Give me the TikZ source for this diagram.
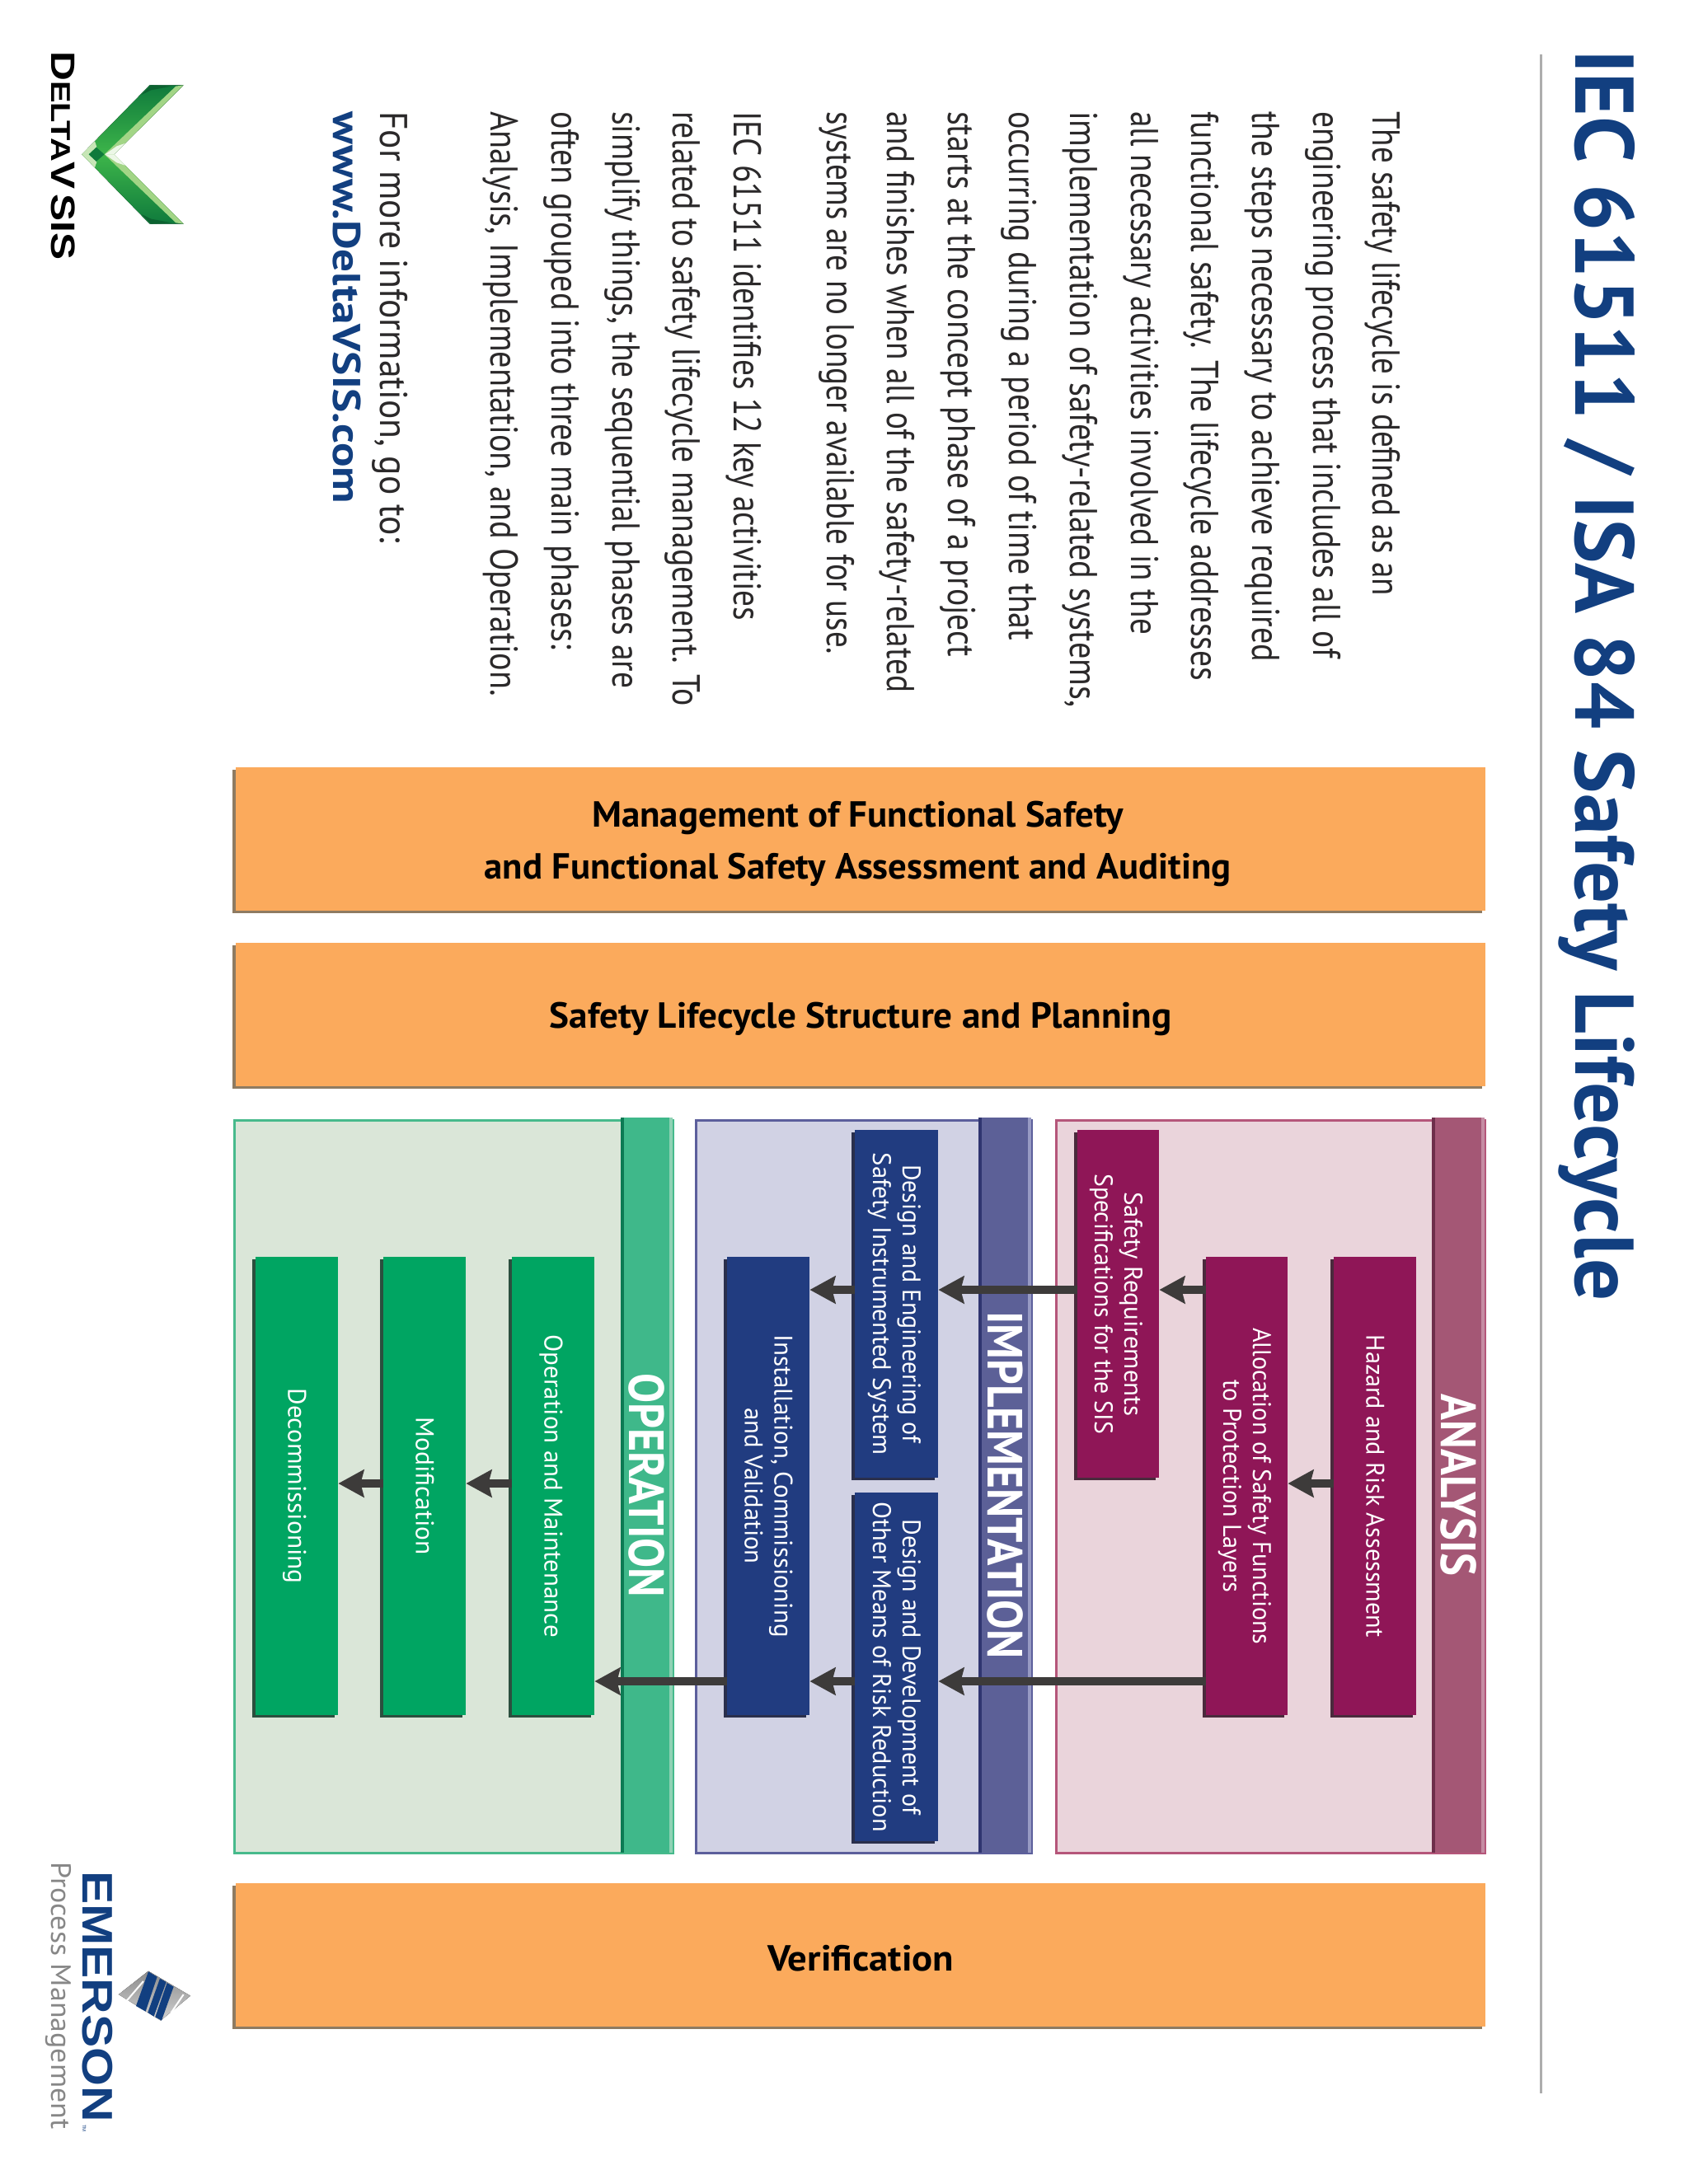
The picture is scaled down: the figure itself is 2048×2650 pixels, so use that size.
\documentclass[tikz,border=0pt]{standalone}
\usepackage{fontspec}
\usepackage{graphicx}
\setmainfont{PT Sans}
\newfontfamily\logofont{Liberation Sans}
\usetikzlibrary{arrows.meta,shadows}
\definecolor{orangebox}{HTML}{FBAA5C}
\definecolor{orangeedge}{HTML}{8E7B62}
\definecolor{crimson}{HTML}{8F1657}
\definecolor{crimsonedge}{HTML}{4A2A3C}
\definecolor{navy}{HTML}{213C80}
\definecolor{navyedge}{HTML}{2A2F4C}
\definecolor{grn}{HTML}{00A562}
\definecolor{grnedge}{HTML}{2B4F3E}
\definecolor{pinkpanel}{HTML}{EAD4DB}
\definecolor{pinkline}{HTML}{B5567A}
\definecolor{pinkstrip}{HTML}{A45775}
\definecolor{pinkdark}{HTML}{6E2F4B}
\definecolor{pinklight}{HTML}{C58CA3}
\definecolor{bluepanel}{HTML}{D1D2E4}
\definecolor{blueline}{HTML}{5C5F9C}
\definecolor{bluestrip}{HTML}{5C6097}
\definecolor{bluedark}{HTML}{2F3570}
\definecolor{bluelight}{HTML}{979AC3}
\definecolor{grnpanel}{HTML}{DAE6D8}
\definecolor{grnline}{HTML}{47BA8C}
\definecolor{grnstrip}{HTML}{3FB88A}
\definecolor{grndark}{HTML}{0C7A53}
\definecolor{grnlight}{HTML}{8FD2B4}
\definecolor{titleblue}{HTML}{123F80}
\definecolor{bodytext}{HTML}{2B292A}
\definecolor{arrowdark}{HTML}{3D3B3A}
\definecolor{chevdark}{HTML}{0F7A3C}
\definecolor{chevmid}{HTML}{3DB54A}
\definecolor{chevlight}{HTML}{A2D586}
\newsavebox\fwbox
\newcommand\fw[2]{\sbox\fwbox{#2}\pgfmathsetmacro\fwr{#1/\wd\fwbox}\scalebox{\fwr}[1]{\usebox\fwbox}}
\newcommand\rtext[1]{\rotatebox{-90}{#1}}
\newcommand\lbl[1]{\rtext{\fontsize{31}{36}\selectfont\begin{tabular}{@{}c@{}}#1\end{tabular}}\kern7pt\relax}
\newcommand\hdr[2]{\rtext{\bfseries\fontsize{60}{60}\selectfont\fw{#1}{#2}}}
\newcommand\olbl[2]{\vbox{\kern#1pt\hbox{\fontsize{44}{63}\selectfont\bfseries\begin{tabular}{@{}c@{}}#2\end{tabular}}}}
\tikzset{
  lifeline/.style={rotate=-90,anchor=base west,inner sep=0pt,text=bodytext,font=\fontsize{47}{47}\selectfont},
  orangebar/.style={rectangle,inner sep=0pt,fill=orangebox,anchor=north west,text=black,
     general shadow={shadow xshift=-4pt,shadow yshift=-3pt,fill=orangeedge}},
  stepbox/.style={rectangle,inner sep=0pt,anchor=north west,text=white,
     general shadow={shadow xshift=-4pt,shadow yshift=-2.5pt,fill=#1edge},fill=#1},
  panelbox/.style={rectangle,inner sep=0pt,anchor=north west,line width=3pt},
  stripbox/.style={rectangle,inner sep=0pt,anchor=north west,text=white},
  flow/.style={draw=arrowdark,line width=10pt,-{Stealth[length=31pt,width=33pt,inset=4pt]}},
}
\newcommand\bx[7]{% style, name, x0, y0, x1, y1, text
  \node[#1,minimum width={(#5-#3)*1pt},minimum height={(#6-#4)*1pt}] (#2) at (#3,#4) {#7};}
\begin{document}
\begin{tikzpicture}[x=1pt,y=-1pt]
\useasboundingbox (0,0) rectangle (2048,2650);
\fill[white] (0,0) rectangle (2048,2650);

% title and rule
\node[rotate=-90,anchor=base west,inner sep=0pt,text=titleblue,font=\fontsize{101}{101}\selectfont\bfseries] (title) at (1911,60) {\fw{1518}{IEC 61511 / ISA 84 Safety Lifecycle}};
\coordinate (ruleA) at (1869,66);
\coordinate (ruleB) at (1869,2540);
\draw[line width=3pt,draw=black!32] (ruleA) -- (ruleB);

% body text
\node[lifeline] (p1) at (1665,135) {\fw{588}{The safety lifecycle is defined as an}};
\node[lifeline] (p2) at (1593,135) {\fw{664}{engineering process that includes all of}};
\node[lifeline] (p3) at (1519,135) {\fw{668}{the steps necessary to achieve required}};
\node[lifeline] (p4) at (1445,135) {\fw{691}{functional safety. The lifecycle addresses}};
\node[lifeline] (p5) at (1372,135) {\fw{635}{all necessary activities involved in the}};
\node[lifeline] (p6) at (1298,135) {\fw{723}{implementation of safety-related systems,}};
\node[lifeline] (p7) at (1224,135) {\fw{642}{occurring during a period of time that}};
\node[lifeline] (p8) at (1150,135) {\fw{662}{starts at the concept phase of a project}};
\node[lifeline] (p9) at (1076,135) {\fw{705}{and finishes when all of the safety-related}};
\node[lifeline] (p10) at (1003,135) {\fw{659}{systems are no longer available for use.}};
\node[lifeline] (p11) at (890,135) {\fw{618}{IEC 61511 identifies 12 key activities}};
\node[lifeline] (p12) at (816,135) {\fw{722}{related to safety lifecycle management. To}};
\node[lifeline] (p13) at (743,135) {\fw{700}{simplify things, the sequential phases are}};
\node[lifeline] (p14) at (669,135) {\fw{653}{often grouped into three main phases:}};
\node[lifeline] (p15) at (595,135) {\fw{710}{Analysis, Implementation, and Operation.}};
\node[lifeline] (p16) at (461,135) {\fw{524}{For more information, go to:}};
\node[lifeline,text=titleblue,font=\fontsize{47}{47}\selectfont\bfseries] (url) at (404,135) {\fw{476}{www.DeltaVSIS.com}};

% orange bars
\bx{orangebar}{mgmt}{286}{931}{1802}{1105}{\olbl{8}{\fw{645}{Management of Functional Safety}\\\fw{906}{and Functional Safety Assessment and Auditing}}\kern7pt\relax}
\bx{orangebar}{plan}{286}{1144}{1802}{1318}{\olbl{8}{\fw{755}{Safety Lifecycle Structure and Planning}}}
\bx{orangebar}{verif}{286}{2285}{1802}{2459}{\olbl{14}{\fw{226}{Verification}}}

% panels
\bx{panelbox,fill=pinkpanel,draw=pinkline}{anaP}{1280}{1358}{1800}{2247}{}
\bx{panelbox,fill=bluepanel,draw=blueline}{impP}{843}{1358}{1250}{2247}{}
\bx{panelbox,fill=grnpanel,draw=grnline}{opP}{283}{1358}{815}{2247}{}

% header strips
\bx{stripbox,fill=pinkstrip}{anaS}{1737}{1356}{1801}{2248}{\hdr{221}{ANALYSIS}}
\bx{stripbox,fill=bluestrip}{impS}{1187}{1356}{1251}{2248}{\hdr{421}{IMPLEMENTATION}}
\bx{stripbox,fill=grnstrip}{opS}{753}{1356}{816}{2248}{\hdr{272}{OPERATION}}
\fill[pinkdark] (anaS.north west) rectangle ([xshift=4pt]anaS.south west);
\fill[pinklight] ([xshift=-4pt]anaS.north east) rectangle (anaS.south east);
\fill[bluedark] (impS.north west) rectangle ([xshift=4pt]impS.south west);
\fill[bluelight] ([xshift=-4pt]impS.north east) rectangle (impS.south east);
\fill[grndark] (opS.north west) rectangle ([xshift=4pt]opS.south west);
\fill[grnlight] ([xshift=-4pt]opS.north east) rectangle (opS.south east);

% step boxes
\bx{stepbox=crimson}{hazard}{1618}{1525}{1718}{2081}{\lbl{\fw{367}{Hazard and Risk Assessment}}}
\bx{stepbox=crimson}{alloc}{1463}{1525}{1562}{2081}{\lbl{\fw{384}{Allocation of Safety Functions}\\\fw{258}{to Protection Layers}}}
\bx{stepbox=crimson}{srs}{1307}{1371}{1406}{1793}{\lbl{\fw{272}{Safety Requirements}\\\fw{316}{Specifications for the SIS}}}
\bx{stepbox=navy}{deseng}{1037}{1371}{1138}{1793}{\lbl{\fw{338}{Design and Engineering of}\\\fw{367}{Safety Instrumented System}}}
\bx{stepbox=navy}{desdev}{1037}{1811}{1138}{2234}{\lbl{\fw{358}{Design and Development of}\\\fw{400}{Other Means of Risk Reduction}}}
\bx{stepbox=navy}{install}{882}{1525}{982}{2081}{\lbl{\fw{367}{Installation, Commissioning}\\\fw{189}{and Validation}}}
\bx{stepbox=grn}{opm}{621}{1525}{721}{2081}{\lbl{\fw{367}{Operation and Maintenance}}}
\bx{stepbox=grn}{modif}{465}{1525}{565}{2081}{\lbl{\fw{167}{Modification}}}
\bx{stepbox=grn}{decom}{310}{1525}{410}{2081}{\lbl{\fw{237}{Decommissioning}}}

% connectors
\coordinate (rowA) at (0,1565);
\coordinate (rowB) at (0,1800);
\coordinate (rowC) at (0,2040);
\draw[flow] (hazard.west |- rowB) -- (alloc.east |- rowB);
\draw[flow] (alloc.west |- rowA) -- (srs.east |- rowA);
\draw[flow] (srs.west |- rowA) -- (deseng.east |- rowA);
\draw[flow] (alloc.west |- rowC) -- (desdev.east |- rowC);
\draw[flow] (deseng.west |- rowA) -- (install.east |- rowA);
\draw[flow] (desdev.west |- rowC) -- (install.east |- rowC);
\draw[flow] (install.west |- rowC) -- (opm.east |- rowC);
\draw[flow] (opm.west |- rowB) -- (modif.east |- rowB);
\draw[flow] (modif.west |- rowB) -- (decom.east |- rowB);

% DeltaV SIS logo
\node[rotate=-90,anchor=base west,inner sep=0pt,text=black,font=\logofont\bfseries\fontsize{41}{41}\selectfont] (dv) at (62,62)
  {\fw{253}{D{\fontsize{33}{33}\selectfont ELTA}V\hspace{0.12em}SIS}};
\begin{scope}[shift={(0,0)},x=0.3333pt,y=-0.3333pt]
  \fill[top color=chevdark,bottom color=chevdark,middle color=chevmid] (668,310)--(545,310)--(298,562)--(545,815)--(668,815)--(415,562)--cycle;
  \fill[chevlight] (668,310)--(640,314)--(380,562)--(640,811)--(668,815)--(415,562)--cycle;
  \fill[white!80!chevlight] (382,562)--(415,562)--(455,522)--(425,532)--cycle;
  \fill[white!80!chevlight] (382,562)--(415,562)--(455,602)--(425,592)--cycle;
  \fill[chevdark] (322,562)--(350,536)--(380,562)--(350,588)--cycle;
  \fill[white!40!chevlight] (298,562)--(345,514)--(352,534)--(322,562)--(352,590)--(345,610)--cycle;
  \fill[chevdark!80!black] (625,314)--(550,310)--(515,345)--(550,328)--cycle;
  \fill[chevdark!80!black] (625,811)--(550,815)--(515,780)--(550,797)--cycle;
\end{scope}

% Emerson logo
\node[rotate=-90,anchor=base west,inner sep=0pt,text=titleblue,font=\logofont\bfseries\fontsize{52}{52}\selectfont] (em) at (100,2270) {\fw{305}{EMERSON}};
\node[rotate=-90,anchor=base west,inner sep=0pt,text=titleblue,font=\logofont\fontsize{6}{6}\selectfont] (emtm) at (100,2578) {TM};
\node[rotate=-90,anchor=base west,inner sep=0pt,text=black!47,font=\fontsize{34}{34}\selectfont] (pm) at (62,2259) {\fw{324}{Process Management}};
\begin{scope}[shift={(0,2200)},x=0.3333pt,y=-0.3333pt]
  \fill[top color=black!45,bottom color=black!18] (432,660)--(540,575)--(693,665)--(585,755)--cycle;
  \draw[white,line width=2pt] (462,682)--(522,612);
  \draw[white,line width=2pt] (622,728)--(668,660);
  \fill[titleblue] (540,577)--(572,596)--(530,722)--(495,702)--cycle;
  \fill[titleblue] (582,602)--(605,615)--(560,740)--(538,726)--cycle;
  \fill[titleblue] (608,618)--(632,632)--(588,755)--(565,742)--cycle;
\end{scope}
\end{tikzpicture}
\end{document}
